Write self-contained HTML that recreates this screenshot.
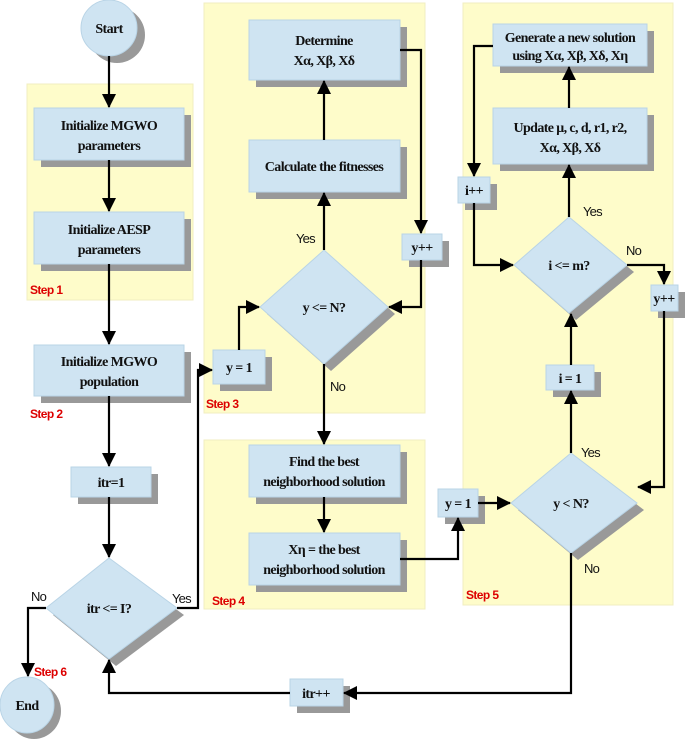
<!DOCTYPE html>
<html><head><meta charset="utf-8"><style>
html,body{margin:0;padding:0;background:#fff;}
svg{display:block;}
.b{font-family:"Liberation Serif",serif;font-weight:bold;font-size:14px;fill:#111;letter-spacing:-0.6px;}
.l{font-family:"Liberation Sans",sans-serif;font-size:13px;fill:#111;letter-spacing:-0.8px;}
.s{font-family:"Liberation Sans",sans-serif;font-size:12px;font-weight:bold;fill:#d00;letter-spacing:-0.6px;}
</style></head><body>
<svg width="685" height="742" viewBox="0 0 685 742" xmlns="http://www.w3.org/2000/svg">
<defs>
<marker id="a" markerWidth="10" markerHeight="10" refX="9" refY="5" orient="auto" markerUnits="userSpaceOnUse"><path d="M0,0 L10,5 L0,10 z" fill="#000"/></marker>
<marker id="a2" markerWidth="14" markerHeight="14" refX="13" refY="7" orient="auto" markerUnits="userSpaceOnUse"><path d="M0,0 L14,7 L0,14 z" fill="#000"/></marker>
</defs>
<!-- panels -->
<g fill="#fefcca" stroke="#f0eec0">
<rect x="27" y="84" width="166" height="216"/>
<rect x="204" y="3" width="221" height="410"/>
<rect x="204" y="440" width="221" height="169"/>
<rect x="463" y="3" width="210" height="602"/>
</g>
<!-- shadows -->
<g fill="#999">
<ellipse cx="117" cy="35" rx="28" ry="28"/>
<rect x="41" y="115" width="150" height="52"/>
<rect x="41" y="219" width="150" height="52"/>
<rect x="41" y="352" width="150" height="51"/>
<rect x="220" y="357" width="52" height="34"/>
<rect x="256" y="27" width="151" height="60"/>
<rect x="256" y="147" width="151" height="52"/>
<polygon points="331,257 395,314 331,371 267,314"/>
<rect x="409" y="241" width="40" height="26"/>
<rect x="500" y="31" width="154" height="42"/>
<rect x="500" y="115" width="154" height="56"/>
<rect x="465" y="184" width="32" height="26"/>
<polygon points="576,224 634,272 576,320 521,272"/>
<rect x="658" y="292" width="27" height="26"/>
<rect x="553" y="372" width="48" height="25"/>
<rect x="256" y="452" width="151" height="52"/>
<rect x="256" y="540" width="151" height="52"/>
<rect x="445" y="496" width="40" height="28"/>
<polygon points="578,460 644,510 578,560 518,510"/>
<rect x="78" y="474" width="80" height="30"/>
<polygon points="116,565 184,615 116,666 53,615"/>
<rect x="297" y="686" width="53" height="27"/>
<ellipse cx="34" cy="711" rx="27" ry="28"/>
</g>
<!-- shapes -->
<g fill="#cfe4f2" stroke="#b9d4e6" stroke-width="1">
<ellipse cx="109" cy="28" rx="28" ry="28"/>
<rect x="34" y="108" width="150" height="52"/>
<rect x="34" y="212" width="150" height="52"/>
<rect x="34" y="345" width="150" height="51"/>
<rect x="213" y="350" width="52" height="34"/>
<rect x="249" y="20" width="151" height="60"/>
<rect x="249" y="140" width="151" height="52"/>
<polygon points="324,250 388,307 324,364 260,307"/>
<rect x="402" y="234" width="40" height="26"/>
<rect x="493" y="24" width="154" height="42"/>
<rect x="493" y="108" width="154" height="56"/>
<rect x="458" y="177" width="32" height="26"/>
<polygon points="569,217 627,265 569,313 514,265"/>
<rect x="651" y="285" width="27" height="26"/>
<rect x="546" y="365" width="48" height="25"/>
<rect x="249" y="445" width="151" height="52"/>
<rect x="249" y="533" width="151" height="52"/>
<rect x="438" y="489" width="40" height="28"/>
<polygon points="571,453 637,503 571,553 511,503"/>
<rect x="71" y="467" width="80" height="30"/>
<polygon points="109,558 177,608 109,659 46,608"/>
<rect x="290" y="679" width="53" height="27"/>
<ellipse cx="27" cy="705" rx="27" ry="28"/>
</g>
<!-- connectors -->
<g stroke="#000" stroke-width="2.2" fill="none" marker-end="url(#a2)">
<line x1="109" y1="56" x2="109" y2="107"/>
<line x1="109" y1="160" x2="109" y2="211"/>
<line x1="109" y1="264" x2="109" y2="344"/>
<line x1="109" y1="396" x2="109" y2="466"/>
<line x1="109" y1="497" x2="109" y2="557"/>
<polyline points="177,608 198,608 198,370 212,370"/>
<polyline points="239,350 239,307 259,307"/>
<line x1="324" y1="250" x2="324" y2="193"/>
<line x1="324" y1="140" x2="324" y2="81"/>
<polyline points="400,50 421,50 421,233"/>
<polyline points="421,260 421,307 389,307"/>
<line x1="324" y1="364" x2="324" y2="444"/>
<line x1="324" y1="497" x2="324" y2="532"/>
<polyline points="400,559 458,559 458,518"/>
<line x1="478" y1="503" x2="510" y2="503"/>
<polyline points="571,553 571,693 344,693"/>
<polyline points="290,693 109,693 109,660"/>
<polyline points="46,608 28,608 28,676"/>
<line x1="571" y1="453" x2="571" y2="391"/>
<line x1="571" y1="365" x2="571" y2="314"/>
<line x1="569" y1="217" x2="569" y2="165"/>
<line x1="569" y1="108" x2="569" y2="67"/>
<polyline points="493,46 474,46 474,176"/>
<polyline points="474,203 474,265 513,265"/>
<polyline points="627,265 664,265 664,284"/>
<polyline points="664,311 664,487 638,487"/>
</g>
<!-- text -->
<g class="b" text-anchor="middle">
<text x="109" y="33">Start</text>
<text x="109" y="130">Initialize MGWO</text>
<text x="109" y="150">parameters</text>
<text x="109" y="234">Initialize AESP</text>
<text x="109" y="254">parameters</text>
<text x="109" y="366">Initialize MGWO</text>
<text x="109" y="386">population</text>
<text x="239" y="372">y = 1</text>
<text x="324" y="45">Determine</text>
<text x="324" y="65">Xα,  Xβ,  Xδ</text>
<text x="324" y="171">Calculate the fitnesses</text>
<text x="324" y="312">y &lt;= N?</text>
<text x="422" y="252">y++</text>
<text x="570" y="42">Generate a new solution</text>
<text x="570" y="60">using Xα, Xβ, Xδ, Xη</text>
<text x="570" y="132">Update μ, c, d, r1, r2,</text>
<text x="570" y="152">Xα, Xβ, Xδ</text>
<text x="474" y="195">i++</text>
<text x="569" y="270">i &lt;= m?</text>
<text x="664" y="303">y++</text>
<text x="570" y="383">i = 1</text>
<text x="324" y="466">Find the best</text>
<text x="324" y="486">neighborhood solution</text>
<text x="324" y="554">Xη = the best</text>
<text x="324" y="574">neighborhood solution</text>
<text x="458" y="508">y = 1</text>
<text x="571" y="508">y &lt; N?</text>
<text x="111" y="487">itr=1</text>
<text x="109" y="613">itr &lt;= I?</text>
<text x="316" y="698">itr++</text>
<text x="27" y="710">End</text>
</g>
<g class="l">
<text x="296" y="243">Yes</text>
<text x="330" y="391">No</text>
<text x="583" y="216">Yes</text>
<text x="626" y="255">No</text>
<text x="581" y="457">Yes</text>
<text x="584" y="573">No</text>
<text x="31" y="601">No</text>
<text x="172" y="603">Yes</text>
</g>
<g class="s">
<text x="30" y="294">Step 1</text>
<text x="30" y="418">Step 2</text>
<text x="206" y="408">Step 3</text>
<text x="212" y="605">Step 4</text>
<text x="466" y="599">Step 5</text>
<text x="34" y="676">Step 6</text>
</g>
</svg>
</body></html>
